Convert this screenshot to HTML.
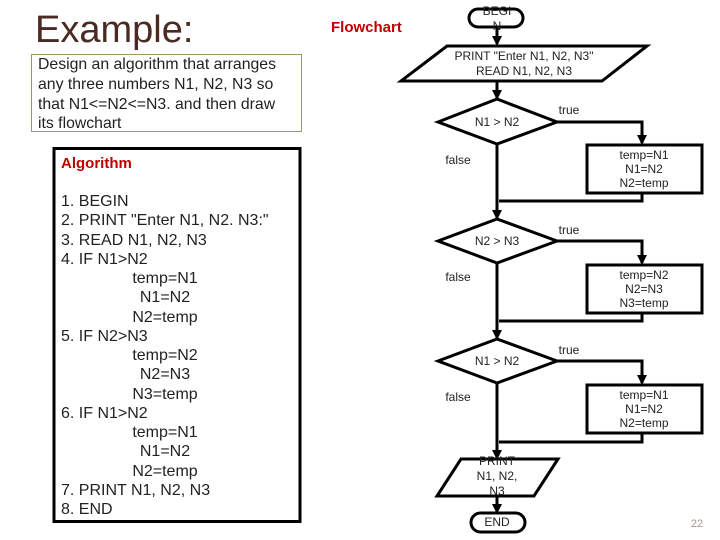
<!DOCTYPE html>
<html><head><meta charset="utf-8"><style>
body{margin:0;background:#fff;}
svg{display:block;font-family:"Liberation Sans",Arial,sans-serif;}
</style></head><body>
<svg width="720" height="540" viewBox="0 0 720 540" xmlns="http://www.w3.org/2000/svg">
<defs><marker id="a" markerWidth="10" markerHeight="10" refX="8" refY="5" orient="auto" markerUnits="userSpaceOnUse"><path d="M0,0 L10,5 L0,10 z" fill="#000"/></marker></defs>
<text x="35" y="42" font-size="38" fill="#4a2a22">Example:</text>
<rect x="31.5" y="54.5" width="270" height="77" fill="#fff" stroke="#9a9a60" stroke-width="1"/>
<g font-size="15.8" fill="#222">
<text x="38" y="69">Design an algorithm that arranges</text>
<text x="38" y="89">any three numbers N1, N2, N3 so</text>
<text x="38" y="109">that N1&lt;=N2&lt;=N3. and then draw</text>
<text x="38" y="128">its flowchart</text>
</g>
<rect x="54" y="148.5" width="246" height="373" fill="#fff" stroke="#000" stroke-width="3"/>
<text x="61" y="168" font-size="15" font-weight="bold" fill="#c00000">Algorithm</text>
<g font-size="16" fill="#222">
<text x="61" y="206">1. BEGIN</text>
<text x="61" y="225">2. PRINT "Enter N1, N2. N3:"</text>
<text x="61" y="245">3. READ N1, N2, N3</text>
<text x="61" y="264">4. IF N1&gt;N2</text>
<text x="165" y="283" text-anchor="middle">temp=N1</text>
<text x="165" y="302" text-anchor="middle">N1=N2</text>
<text x="165" y="322" text-anchor="middle">N2=temp</text>
<text x="61" y="341">5.  IF N2&gt;N3</text>
<text x="165" y="360" text-anchor="middle">temp=N2</text>
<text x="165" y="379" text-anchor="middle">N2=N3</text>
<text x="165" y="399" text-anchor="middle">N3=temp</text>
<text x="61" y="418">6.  IF N1&gt;N2</text>
<text x="165" y="437" text-anchor="middle">temp=N1</text>
<text x="165" y="456" text-anchor="middle">N1=N2</text>
<text x="165" y="476" text-anchor="middle">N2=temp</text>
<text x="61" y="495">7.  PRINT N1, N2, N3</text>
<text x="61" y="514">8.  END</text>
</g>
<text x="331" y="32" font-size="15" font-weight="bold" fill="#c00000">Flowchart</text>

<g stroke="#000" stroke-width="3" fill="#fff">
<line x1="497" y1="27" x2="497" y2="44" marker-end="url(#a)"/>
<line x1="497" y1="81" x2="497" y2="98" marker-end="url(#a)"/>
<line x1="497" y1="144" x2="497" y2="218" marker-end="url(#a)"/>
<polyline points="557,122 642,122 642,143" fill="none" marker-end="url(#a)"/>
<polyline points="642,193 642,201 499,201" fill="none"/>
<line x1="497" y1="263" x2="497" y2="338" marker-end="url(#a)"/>
<polyline points="557,241 642,241 642,263" fill="none" marker-end="url(#a)"/>
<polyline points="642,313 642,321 499,321" fill="none"/>
<line x1="497" y1="383" x2="497" y2="458" marker-end="url(#a)"/>
<polyline points="557,361 642,361 642,383" fill="none" marker-end="url(#a)"/>
<polyline points="642,433 642,442 499,442" fill="none"/>
<line x1="497" y1="496" x2="497" y2="512" marker-end="url(#a)"/>
<rect x="469" y="9" width="54" height="18" rx="9"/>
<polygon points="447,46 647,46 602,81 401,81"/>
<polygon points="438,122 497,99 557,122 497,144"/>
<rect x="587" y="145" width="115" height="48"/>
<polygon points="438,241 497,219 557,241 497,263"/>
<rect x="587" y="265" width="115" height="48"/>
<polygon points="438,361 497,339 557,361 497,383"/>
<rect x="587" y="385" width="115" height="48"/>
<polygon points="461,459 558,459 534,496 437,496"/>
<rect x="471" y="513" width="54" height="19" rx="9.5"/>
</g>
<g font-size="12" fill="#222" text-anchor="middle">
<text x="497" y="15">BEGI</text>
<text x="497" y="30">N</text>
<text x="524" y="60">PRINT "Enter N1, N2, N3"</text>
<text x="524" y="75">READ N1, N2, N3</text>
<text x="497" y="126">N1 &gt; N2</text>
<text x="497" y="245">N2 &gt; N3</text>
<text x="497" y="365">N1 &gt; N2</text>
<text x="644" y="159">temp=N1</text><text x="644" y="173">N1=N2</text><text x="644" y="187">N2=temp</text>
<text x="644" y="279">temp=N2</text><text x="644" y="293">N2=N3</text><text x="644" y="307">N3=temp</text>
<text x="644" y="399">temp=N1</text><text x="644" y="413">N1=N2</text><text x="644" y="427">N2=temp</text>
<text x="497" y="465">PRINT</text>
<text x="497" y="480">N1, N2,</text>
<text x="497" y="495">N3</text>
<text x="497" y="526">END</text>
<text x="458" y="164">false</text><text x="458" y="281">false</text><text x="458" y="401">false</text>
<text x="569" y="114">true</text><text x="569" y="234">true</text><text x="569" y="354">true</text>
</g>
<text x="697" y="527" font-size="11" fill="#a09a90" text-anchor="middle">22</text>
</svg>
</body></html>
